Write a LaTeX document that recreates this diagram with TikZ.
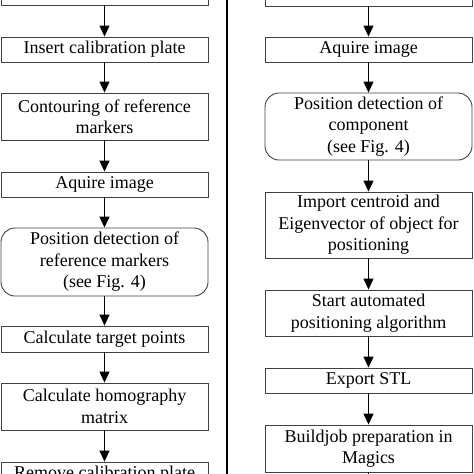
\documentclass[tikz,border=0pt]{standalone}
\usepackage{fontspec}
\setmainfont{Liberation Serif}
\usetikzlibrary{arrows.meta}
\tikzset{
  box/.style={draw=black!75, line width=0.9pt, minimum width=207pt, align=center, inner sep=0pt,
    font=\fontsize{18}{21.5}\selectfont},
  rbox/.style={box, rounded corners=14pt},
  flow/.style={line width=1.2pt, -{Triangle[length=11pt,width=10pt]}},
  divider/.style={line width=1.2pt}
}
\begin{document}
\begin{tikzpicture}[x=1pt,y=-1pt]
\useasboundingbox (0,0) rectangle (474,474);
\begin{scope}
\clip (0,0) rectangle (474,474);
% left column
\node[box, minimum height=25pt] (l0) at (104.5,-7.5) {};
\node[box, minimum height=25pt] (l1) at (104.5,49.5) {Insert calibration plate};
\node[box, minimum height=47pt] (l2) at (104.5,116.5) {Contouring of reference\\markers};
\node[box, minimum height=25pt] (l3) at (104.5,184.5) {Aquire image};
\node[rbox, minimum height=68pt] (l4) at (104.5,262) {Position detection of\\reference markers\\(see Fig. 4)};
\node[box, minimum height=26pt] (l5) at (104.5,339) {Calculate target points};
\node[box, minimum height=47pt] (l6) at (104.5,406.5) {Calculate homography\\matrix};
\node[box, minimum height=25pt] (l7) at (104.5,474.5) {Remove calibration plate};
% right column
\node[box, minimum height=25pt] (r0) at (368.5,-6.5) {};
\node[box, minimum height=25pt] (r1) at (368.5,49.5) {Aquire image};
\node[rbox, minimum height=67pt] (r2) at (368.5,126.5) {Position detection of\\component\\(see Fig. 4)};
\node[box, minimum height=66pt] (r3) at (368.5,225) {Import centroid and\\Eigenvector of object for\\positioning};
\node[box, minimum height=46pt] (r4) at (368.5,313) {Start automated\\positioning algorithm};
\node[box, minimum height=25pt] (r5) at (368.5,380.5) {Export STL};
\node[box, minimum height=47pt] (r6) at (368.5,448.5) {Buildjob preparation in\\Magics};
\coordinate (r7) at (368.5,490);
% connectors
\draw[flow] (l0) -- (l1);
\draw[flow] (l1) -- (l2);
\draw[flow] (l2) -- (l3);
\draw[flow] (l3) -- (l4);
\draw[flow] (l4) -- (l5);
\draw[flow] (l5) -- (l6);
\draw[flow] (l6) -- (l7);
\draw[flow] (r0) -- (r1);
\draw[flow] (r1) -- (r2);
\draw[flow] (r2) -- (r3);
\draw[flow] (r3) -- (r4);
\draw[flow] (r4) -- (r5);
\draw[flow] (r5) -- (r6);
\draw[flow] (r6) -- (r7);
% divider
\coordinate (dtop) at (227,-5);
\coordinate (dbot) at (227,480);
\draw[divider] (dtop) -- (dbot);
\end{scope}
\end{tikzpicture}
\end{document}
